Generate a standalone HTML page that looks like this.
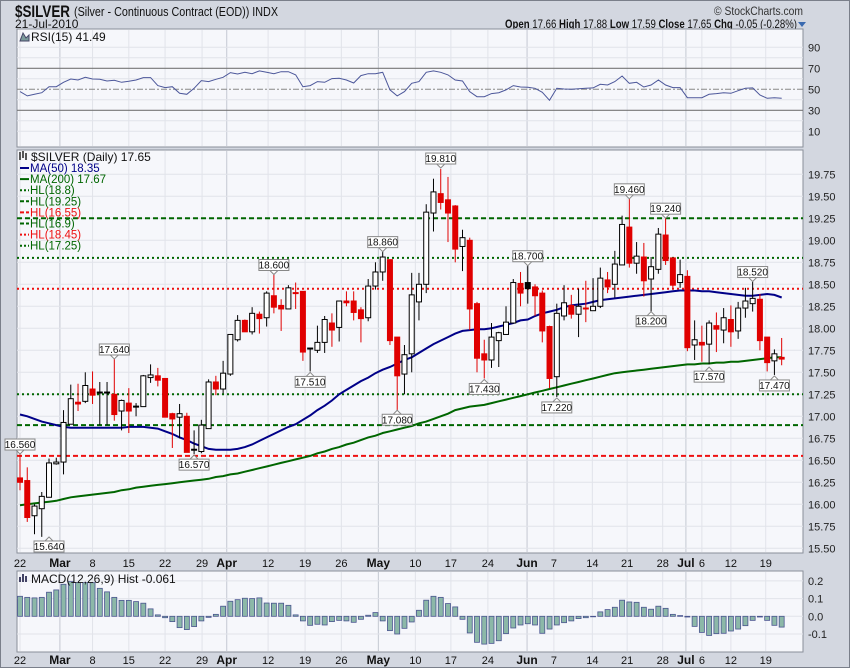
<!DOCTYPE html>
<html><head><meta charset="utf-8"><style>
html,body{margin:0;padding:0;background:#d3d7e0;}
svg{display:block;font-family:"Liberation Sans",sans-serif;}
</style></head><body>
<svg id="chart" width="850" height="668" viewBox="0 0 850 668">
<rect x="0.5" y="0.5" width="849" height="667" fill="#d3d7e0" stroke="#7a7f8a"/>
<text x="15" y="17" font-size="17" font-weight="bold" fill="#111" textLength="55" lengthAdjust="spacingAndGlyphs">$SILVER</text>
<text x="74" y="16" font-size="13" fill="#111" textLength="204" lengthAdjust="spacingAndGlyphs">(Silver - Continuous Contract (EOD)) INDX</text>
<text x="15" y="28" font-size="12" fill="#111">21-Jul-2010</text>
<text x="803" y="15" font-size="12" fill="#333" text-anchor="end" textLength="89" lengthAdjust="spacingAndGlyphs">© StockCharts.com</text>
<text x="505" y="28" font-size="12" fill="#111" textLength="292" lengthAdjust="spacingAndGlyphs"><tspan font-weight="bold">Open</tspan> 17.66 <tspan font-weight="bold">High</tspan> 17.88 <tspan font-weight="bold">Low</tspan> 17.59 <tspan font-weight="bold">Close</tspan> 17.65 <tspan font-weight="bold">Chg</tspan> -0.05 (-0.28%)</text>
<path d="M798 22 L806 22 L802 27 Z" fill="#3a6ab0"/>
<g id="layer"></g>
</svg>
<script>
const opens=[16.30,16.27,15.87,15.95,16.08,16.46,16.48,16.91,17.16,17.17,17.31,17.27,17.27,17.25,17.06,17.15,17.11,17.11,17.44,17.46,17.43,17.03,16.99,17.00,16.62,16.60,16.86,17.39,17.31,17.48,17.87,18.09,17.96,18.16,18.12,18.37,18.26,18.22,18.40,18.42,17.77,17.75,17.84,18.06,18.01,18.31,18.31,18.21,18.12,18.48,18.64,18.78,17.90,17.48,17.71,18.30,18.50,19.31,19.53,19.46,19.39,18.93,19.00,18.28,17.71,17.64,17.86,17.93,18.06,18.51,18.52,18.47,18.40,18.02,17.45,18.14,18.26,18.16,18.23,18.20,18.25,18.55,18.50,18.72,19.15,18.74,18.81,18.56,18.67,19.06,18.80,18.52,18.59,17.81,17.84,17.82,18.03,17.98,18.10,17.97,18.23,18.28,18.33,17.90,17.63,17.67];
const highs=[16.58,16.42,16.00,16.14,16.52,16.53,17.07,17.36,17.37,17.50,17.51,17.39,17.39,17.66,17.19,17.32,17.15,17.47,17.59,17.55,17.43,17.04,17.14,17.04,16.84,16.96,17.42,17.46,17.63,17.93,18.15,18.10,18.24,18.19,18.42,18.61,18.33,18.49,18.52,18.42,17.77,18.03,18.14,18.17,18.31,18.42,18.42,18.24,18.56,18.75,18.87,18.78,17.90,17.81,18.63,18.63,19.41,19.70,19.81,19.72,19.40,19.12,19.03,18.30,17.87,18.06,17.96,18.25,18.56,18.64,18.72,18.50,18.43,18.03,18.28,18.49,18.38,18.45,18.54,18.57,18.69,18.64,18.88,19.28,19.48,18.98,18.97,18.81,19.14,19.27,18.80,18.78,18.66,18.09,18.03,18.09,18.18,18.23,18.26,18.30,18.46,18.53,18.39,17.90,17.76,17.89];
const lows=[16.16,15.80,15.66,15.63,16.08,16.45,16.34,16.91,17.06,17.15,17.14,16.90,16.90,16.95,16.84,16.81,17.00,17.11,17.38,17.34,16.99,16.64,16.75,16.59,16.57,16.58,16.86,17.24,17.26,17.46,17.85,17.96,17.93,17.94,18.02,18.17,17.97,18.22,18.22,17.63,17.51,17.72,17.72,17.79,17.85,18.25,18.09,17.84,18.08,18.44,18.54,17.81,17.07,17.25,17.50,18.09,18.40,19.10,19.35,18.98,18.75,18.65,17.98,17.50,17.43,17.55,17.56,17.93,18.06,18.25,18.28,18.14,17.84,17.32,17.22,18.09,18.11,17.90,18.07,18.21,18.23,18.40,18.35,18.72,18.69,18.62,18.36,18.19,18.62,18.72,18.44,18.46,17.74,17.64,17.62,17.59,17.73,17.83,17.79,17.88,18.12,18.19,17.75,17.51,17.47,17.58];
const closes=[16.25,15.85,15.98,16.09,16.47,16.48,16.93,17.20,17.14,17.35,17.24,17.27,17.27,17.02,17.18,17.06,17.11,17.46,17.47,17.41,16.99,16.97,17.03,16.59,16.62,16.90,17.39,17.31,17.49,17.93,18.09,17.96,18.17,18.11,18.40,18.24,18.22,18.46,18.40,17.73,17.77,17.84,18.10,17.98,18.31,18.29,18.18,18.11,18.48,18.64,18.81,17.86,17.46,17.70,18.38,18.50,19.32,19.55,19.43,19.31,18.90,19.03,18.22,17.66,17.64,17.90,17.95,18.07,18.52,18.40,18.45,18.37,17.97,17.43,18.17,18.29,18.16,18.25,18.22,18.25,18.57,18.47,18.73,19.18,18.74,18.82,18.54,18.70,19.07,18.77,18.49,18.61,17.78,17.87,17.81,18.06,17.99,18.12,17.96,18.23,18.31,18.34,17.86,17.61,17.71,17.65];
const ma50=[17.02,17.00,16.97,16.94,16.92,16.90,16.88,16.87,16.87,16.87,16.87,16.87,16.87,16.87,16.87,16.88,16.88,16.88,16.87,16.86,16.83,16.80,16.76,16.73,16.69,16.66,16.63,16.62,16.62,16.62,16.63,16.65,16.68,16.72,16.76,16.80,16.84,16.88,16.91,16.96,17.01,17.07,17.12,17.18,17.25,17.30,17.35,17.40,17.44,17.49,17.53,17.56,17.60,17.64,17.67,17.72,17.77,17.82,17.86,17.90,17.94,17.97,17.98,17.99,17.99,18.00,18.02,18.04,18.06,18.09,18.10,18.14,18.17,18.19,18.21,18.24,18.26,18.27,18.28,18.30,18.32,18.33,18.34,18.35,18.36,18.37,18.38,18.39,18.40,18.41,18.42,18.43,18.43,18.43,18.42,18.42,18.41,18.40,18.39,18.38,18.37,18.37,18.38,18.39,18.38,18.35];
const ma200=[15.99,16.00,16.01,16.02,16.03,16.04,16.06,16.08,16.09,16.10,16.11,16.12,16.13,16.14,16.16,16.17,16.19,16.20,16.21,16.22,16.23,16.24,16.25,16.26,16.27,16.28,16.29,16.31,16.32,16.34,16.35,16.37,16.39,16.41,16.43,16.45,16.47,16.49,16.51,16.53,16.55,16.58,16.60,16.63,16.65,16.68,16.70,16.73,16.76,16.78,16.81,16.83,16.85,16.87,16.89,16.92,16.94,16.97,17.00,17.03,17.07,17.09,17.11,17.12,17.13,17.15,17.17,17.19,17.21,17.23,17.25,17.27,17.29,17.31,17.33,17.35,17.37,17.39,17.41,17.43,17.45,17.47,17.49,17.50,17.51,17.52,17.53,17.54,17.55,17.56,17.57,17.58,17.59,17.59,17.60,17.60,17.61,17.61,17.62,17.62,17.63,17.64,17.65,17.66,17.67,17.67];
const rsi=[47.8,43.7,45.2,46.8,52.5,52.5,56.7,59.8,58.9,61.4,59.8,59.5,57.9,58.6,56.7,57.6,58.9,61.1,61.1,53.5,51.6,52.5,46.2,45.2,51.0,58.3,57.3,59.5,61.4,65.9,64.6,66.2,64.9,67.5,66.2,64.9,66.8,66.8,63.7,52.5,53.5,57.3,56.7,60.2,60.5,58.9,56.0,63.0,64.9,64.9,66.2,49.4,43.7,47.8,55.7,57.3,66.2,67.5,66.2,63.7,58.9,57.9,47.8,43.0,43.0,45.9,46.8,49.4,53.5,52.2,51.9,51.0,47.1,39.5,51.0,50.3,50.0,50.6,51.0,51.3,54.8,54.1,57.3,62.7,55.7,56.7,52.2,54.1,58.9,54.1,51.6,51.6,42.0,42.0,42.0,45.2,45.9,46.8,46.2,48.7,51.0,51.3,44.6,41.4,42.0,41.49];
const macdHist=[0.113,0.107,0.104,0.107,0.136,0.149,0.181,0.196,0.190,0.190,0.190,0.158,0.138,0.107,0.090,0.090,0.083,0.074,0.042,0.008,-0.008,-0.030,-0.064,-0.075,-0.058,-0.026,-0.006,0.011,0.057,0.085,0.094,0.102,0.100,0.104,0.075,0.074,0.074,0.062,0.008,-0.026,-0.051,-0.045,-0.049,-0.030,-0.023,-0.026,-0.034,-0.017,0.006,0.021,-0.026,-0.081,-0.100,-0.068,-0.032,0.034,0.091,0.113,0.107,0.072,0.053,-0.017,-0.094,-0.147,-0.157,-0.153,-0.138,-0.098,-0.066,-0.049,-0.042,-0.049,-0.096,-0.072,-0.049,-0.036,-0.026,-0.013,-0.008,0.000,0.025,0.038,0.051,0.091,0.081,0.079,0.051,0.040,0.057,0.045,0.011,0.004,-0.004,-0.057,-0.091,-0.108,-0.098,-0.096,-0.083,-0.072,-0.053,-0.023,-0.004,-0.023,-0.051,-0.061];
const dateTickIdx=[0,5.5,10,15,20,25.1,28.5,34.2,39.3,44.3,49.4,54.5,59.4,64.5,69.9,73.6,78.9,83.7,88.6,91.8,94,98,102.8];
const dateTickLabels=["22","Mar","8","15","22","29","Apr","12","19","26","May","10","17","24","Jun","7","14","21","28","Jul","6","12","19"];
const priceTicks=[15.5,15.75,16,16.25,16.5,16.75,17,17.25,17.5,17.75,18,18.25,18.5,18.75,19,19.25,19.5,19.75];
const rsiTicks=[90,70,50,30,10];
const macdTicks=[0.2,0.1,0,-0.1];
const hlLevels=[18.8,19.25,16.55,16.9,18.45,17.25];
const hlColors=["#006600","#006600","#ee1111","#006600","#ee1111","#006600"];
const hlDash=["2,3","5,3","5,3","5,3","2,3","2,3"];
const calloutIdx=[0,13,35,50,58,70,84,89,101,4,24,40,52,64,74,87,95,104];
const calloutVal=[16.56,17.64,18.60,18.86,19.81,18.70,19.46,19.24,18.52,15.64,16.57,17.51,17.08,17.43,17.22,18.20,17.57,17.47];
const calloutSide=["h","h","h","h","h","h","h","h","h","l","l","l","l","l","l","l","l","l"];

const NS="http://www.w3.org/2000/svg";
const L=17,R=803;
const xi=i=>20+i*7.254;
const yP=p=>174.3+(19.75-p)*88;
const yR=v=>68.3+(70-v)*1.05;
const yM=v=>616.3-v*177;
const layer=document.getElementById('layer');
function mk(tag,attrs,parent){const e=document.createElementNS(NS,tag);for(const k in attrs)e.setAttribute(k,attrs[k]);(parent||layer).appendChild(e);return e;}

const panels=[[29,147,'rsi-panel'],[150,553,'price-panel'],[571,652,'macd-panel']];
panels.forEach(p=>{
  const r=mk('rect',{x:L,y:p[0],width:R-L,height:p[1]-p[0],fill:'#f6f7fb',stroke:'#8a8f9a'});
  
  
});
panels.forEach(p=>{
  dateTickIdx.forEach((d,k)=>{
    const month=/[A-Za-z]/.test(dateTickLabels[k]);
    const ln=mk('line',{x1:xi(d),x2:xi(d),y1:p[0]+1,y2:p[1]-1,stroke:month?'#c4c8d2':'#e1e3ea','stroke-width':1});
    
    
  });
});
[10,20,40,60,80,90].forEach(v=>{const ln=mk('line',{x1:L,x2:R,y1:yR(v),y2:yR(v),stroke:'#e1e3ea'});});
[70,30].forEach(v=>{const ln=mk('line',{x1:L,x2:R,y1:yR(v),y2:yR(v),stroke:'#777','stroke-width':1.2});});
{const ln=mk('line',{x1:L,x2:R,y1:yR(50),y2:yR(50),stroke:'#888','stroke-dasharray':'6,2,2,2'});}
rsiTicks.forEach(v=>{const t=mk('text',{x:808,y:yR(v)+4,'font-size':11,fill:'#222'});t.textContent=v;});
{const pts=rsi.map((v,i)=>xi(i).toFixed(1)+','+yR(v).toFixed(1)).join(' ');const pl=mk('polyline',{points:pts,fill:'none',stroke:'#4c579a','stroke-width':1});}
priceTicks.forEach(p=>{
  const ln=mk('line',{x1:L,x2:R,y1:yP(p),y2:yP(p),stroke:'#e1e3ea'});
  
  
  const t=mk('text',{x:808,y:yP(p)+4,'font-size':11,fill:'#222'});t.textContent=p.toFixed(2);
  
  
});
hlLevels.forEach((v,k)=>{
  const ln=mk('line',{x1:L,x2:R,y1:yP(v),y2:yP(v),stroke:hlColors[k],'stroke-width':2,'stroke-dasharray':hlDash[k]});
  
  
});
[[ma50,'#000088','ma50-line'],[ma200,'#006600','ma200-line']].forEach(m=>{
  const pts=m[0].map((v,i)=>xi(i).toFixed(1)+','+yP(v).toFixed(1)).join(' ');
  const pl=mk('polyline',{points:pts,fill:'none',stroke:m[1],'stroke-width':2});
  
  
});
closes.forEach((c,i)=>{
  const o=opens[i],h=highs[i],l=lows[i];
  const prev=i>0?closes[i-1]:o;
  const col=(c<prev)?'#e00000':'#000';
  const x=xi(i);
  const g=mk('g',{});
  
  
  mk('line',{x1:x,x2:x,y1:yP(h),y2:yP(l),stroke:col,'stroke-width':1},g);
  const top=yP(Math.max(o,c)),bot=yP(Math.min(o,c));
  if(bot-top<1.5){mk('rect',{x:x-3,y:(top+bot)/2-1,width:6,height:2,fill:col},g);}
  else if(c<o){mk('rect',{x:x-2.5,y:top,width:5,height:bot-top,fill:col,stroke:col,'stroke-width':1},g);}
  else{mk('rect',{x:x-2.5,y:top,width:5,height:bot-top,fill:'#fff',stroke:'#000','stroke-width':1},g);}
});
calloutVal.forEach((v,k)=>{
  const x=Math.max(20,xi(calloutIdx[k])),yy=yP(v);
  const g=mk('g',{});
  
  
  const w=30,hgt=11;
  let by;
  if(calloutSide[k]==='h'){by=yy-5-hgt;mk('path',{d:`M${x-4} ${by+hgt} L${x} ${yy-1} L${x+4} ${by+hgt}`,fill:'#fff',stroke:'#888'},g);}
  else{by=yy+5;mk('path',{d:`M${x-4} ${by} L${x} ${yy+1} L${x+4} ${by}`,fill:'#fff',stroke:'#888'},g);}
  const bx=calloutIdx[k]===0?5:x-w/2;
  mk('rect',{x:bx,y:by,width:w,height:hgt,fill:'#fff',stroke:'#888'},g);
  const t=mk('text',{x:bx+w/2,y:by+9,'font-size':10,'text-anchor':'middle',fill:'#111'},g);
  t.textContent=v.toFixed(3);
});
const legendTxt=["MA(50) 18.35","MA(200) 17.67","HL(18.8)","HL(19.25)","HL(16.55)","HL(16.9)","HL(18.45)","HL(17.25)"];
const legendCol=["#000088","#006600","#006600","#006600","#ee1111","#006600","#ee1111","#006600"];
const legendDash=["","","2,2","4,2","4,2","4,2","2,2","2,2"];
{const t=mk('text',{x:31,y:161,'font-size':12,fill:'#111'});t.textContent='$SILVER (Daily) 17.65';
 const ic=mk('path',{d:'M20 160 V152 M23 158 V151 M26 160 V153',stroke:'#222','stroke-width':1.5});}
legendTxt.forEach((s,k)=>{
  const y=168+k*11.1;
  const g=mk('g',{});
  
  
  const a={x1:20,x2:29,y1:y,y2:y,stroke:legendCol[k],'stroke-width':2};
  if(legendDash[k])a['stroke-dasharray']=legendDash[k];
  mk('line',a,g);
  const t=mk('text',{x:30,y:y+4,'font-size':11.5,fill:legendCol[k]},g);t.textContent=s;
});
{const t=mk('text',{x:31,y:41,'font-size':12,fill:'#111'});t.textContent='RSI(15) 41.49';
 const ic=mk('path',{d:'M20 41 L23 33 L26 38 L29 35 L29 41 Z',fill:'#7a9a9a',stroke:'#446'});}
[0.2,0.1,0,-0.1].forEach(v=>{const ln=mk('line',{x1:L,x2:R,y1:yM(v),y2:yM(v),stroke:'#e1e3ea'});});
macdTicks.forEach(v=>{const t=mk('text',{x:808,y:yM(v)+4,'font-size':11,fill:'#222'});t.textContent=v.toFixed(1);});
macdHist.forEach((v,i)=>{
  const y0=yM(0),y1=yM(v);
  const b=mk('rect',{x:xi(i)-2.5,y:Math.min(y0,y1),width:5,height:Math.max(0.5,Math.abs(y1-y0)),fill:'#8cb8a8',stroke:'#4a5590','stroke-width':0.8});
  
  
});
{const t=mk('text',{x:31,y:583,'font-size':12,fill:'#111'});t.textContent='MACD(12,26,9) Hist -0.061';
 const ic=mk('path',{d:'M20 582 V577 M23 582 V574 M26 582 V576',stroke:'#446','stroke-width':2});}
[563,660].forEach(yy=>{
  dateTickIdx.forEach((d,k)=>{
    const month=/[A-Za-z]/.test(dateTickLabels[k]);
    const t=mk('text',{x:xi(d),y:yy+4,'font-size':month?12:11,'font-weight':month?'bold':'normal','text-anchor':'middle',fill:'#111'});
    t.textContent=dateTickLabels[k];
    
    
  });
});
</script>
</body></html>
